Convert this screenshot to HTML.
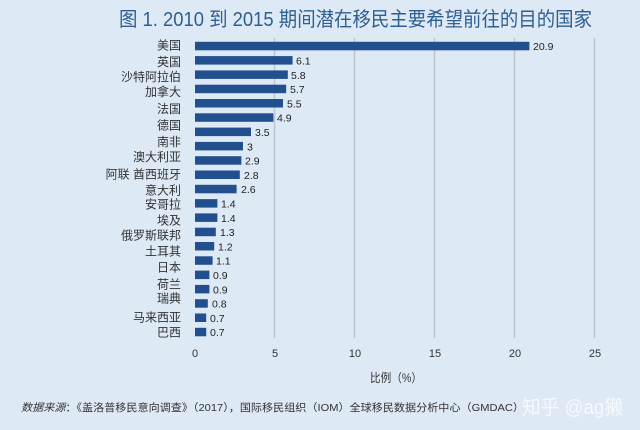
<!DOCTYPE html>
<html><head><meta charset="utf-8">
<style>
html,body{margin:0;padding:0;background:#dde9f5;}
svg{display:block;}
text{font-family:"Liberation Sans","Noto Sans CJK SC",sans-serif;}
</style></head>
<body>
<svg width="640" height="430" viewBox="0 0 640 430" xmlns="http://www.w3.org/2000/svg">
<rect x="0" y="0" width="640" height="430" fill="#dde9f5"/>
<text x="119" y="26" font-size="20" fill="#2f5f8f" textLength="473" lengthAdjust="spacingAndGlyphs">图 1. 2010 到 2015 期间潜在移民主要希望前往的目的国家</text>
<g stroke="#bcc6d1" stroke-width="1.5">
<line x1="274.5" y1="38" x2="274.5" y2="338"/>
<line x1="354.5" y1="38" x2="354.5" y2="338"/>
<line x1="434.5" y1="38" x2="434.5" y2="338"/>
<line x1="514.5" y1="38" x2="514.5" y2="338"/>
<line x1="594.5" y1="38" x2="594.5" y2="338"/>
</g>
<g fill="#22508f">
<rect x="195" y="41.8" width="334.4" height="8.5"/>
<rect x="195" y="56.1" width="97.6" height="8.5"/>
<rect x="195" y="70.4" width="92.8" height="8.5"/>
<rect x="195" y="84.7" width="91.2" height="8.5"/>
<rect x="195" y="99" width="88" height="8.5"/>
<rect x="195" y="113.3" width="78.4" height="8.5"/>
<rect x="195" y="127.6" width="56" height="8.5"/>
<rect x="195" y="141.9" width="48" height="8.5"/>
<rect x="195" y="156.2" width="46.4" height="8.5"/>
<rect x="195" y="170.5" width="44.8" height="8.5"/>
<rect x="195" y="184.8" width="41.6" height="8.5"/>
<rect x="195" y="199.1" width="22.4" height="8.5"/>
<rect x="195" y="213.4" width="22.4" height="8.5"/>
<rect x="195" y="227.7" width="20.8" height="8.5"/>
<rect x="195" y="242" width="19.2" height="8.5"/>
<rect x="195" y="256.3" width="17.6" height="8.5"/>
<rect x="195" y="270.6" width="14.4" height="8.5"/>
<rect x="195" y="284.9" width="14.4" height="8.5"/>
<rect x="195" y="299.2" width="12.8" height="8.5"/>
<rect x="195" y="313.5" width="11.2" height="8.5"/>
<rect x="195" y="327.8" width="11.2" height="8.5"/>
</g>
<g font-size="10.5" fill="#222">
<text x="533" y="50">20.9</text>
<text x="296" y="64.5">6.1</text>
<text x="291" y="78.8">5.8</text>
<text x="290" y="93.1">5.7</text>
<text x="287" y="107.4">5.5</text>
<text x="277" y="121.7">4.9</text>
<text x="255" y="136">3.5</text>
<text x="247" y="150.3">3</text>
<text x="245" y="164.6">2.9</text>
<text x="244" y="178.9">2.8</text>
<text x="241" y="193.2">2.6</text>
<text x="221" y="207.5">1.4</text>
<text x="221" y="221.8">1.4</text>
<text x="220" y="236.1">1.3</text>
<text x="218" y="250.4">1.2</text>
<text x="216" y="264.7">1.1</text>
<text x="213" y="279">0.9</text>
<text x="213" y="293.3">0.9</text>
<text x="212" y="307.6">0.8</text>
<text x="210" y="321.9">0.7</text>
<text x="210" y="336.2">0.7</text>
</g>
<g font-size="12" fill="#333" text-anchor="end">
<text x="181" y="49.5">美国</text>
<text x="181" y="66">英国</text>
<text x="181" y="81">沙特阿拉伯</text>
<text x="181" y="96">加拿大</text>
<text x="181" y="113">法国</text>
<text x="181" y="129.5">德国</text>
<text x="181" y="146">南非</text>
<text x="181" y="161">澳大利亚</text>
<text x="181" y="178.5">阿联 酋西班牙</text>
<text x="181" y="194.5">意大利</text>
<text x="181" y="208.5">安哥拉</text>
<text x="181" y="224.5">埃及</text>
<text x="181" y="239.5">俄罗斯联邦</text>
<text x="181" y="255.5">土耳其</text>
<text x="181" y="271.5">日本</text>
<text x="181" y="288.5">荷兰</text>
<text x="181" y="302.5">瑞典</text>
<text x="181" y="321.5">马来西亚</text>
<text x="181" y="336.5">巴西</text>
</g>
<g font-size="11" fill="#333" text-anchor="middle">
<text x="195" y="357">0</text>
<text x="275" y="357">5</text>
<text x="355" y="357">10</text>
<text x="435" y="357">15</text>
<text x="515" y="357">20</text>
<text x="595" y="357">25</text>
</g>
<text x="370" y="382" font-size="12" fill="#333" textLength="52" lengthAdjust="spacingAndGlyphs">比例（%）</text>
<text x="21" y="411" font-size="10.5" fill="#333" textLength="503" lengthAdjust="spacingAndGlyphs"><tspan font-style="italic">数据来源</tspan>：《盖洛普移民意向调查》（2017），国际移民组织（IOM）全球移民数据分析中心（GMDAC）</text>
<text x="522" y="414" font-size="20" fill="#ffffff" fill-opacity="0.75" textLength="101" lengthAdjust="spacingAndGlyphs">知乎 @ag獭</text>
</svg>
</body></html>
